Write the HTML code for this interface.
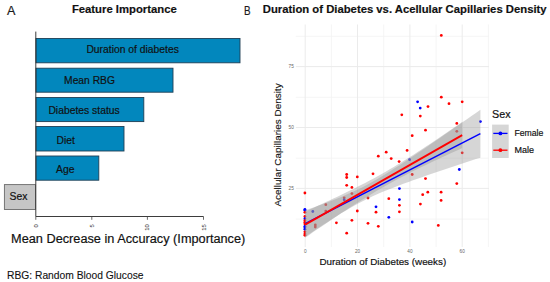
<!DOCTYPE html>
<html><head><meta charset="utf-8"><style>
html,body{margin:0;padding:0;background:#fff;width:550px;height:282px;overflow:hidden}
svg{display:block}
text{font-family:"Liberation Sans",sans-serif}
</style></head><body>
<svg width="550" height="282" viewBox="0 0 550 282">
<rect width="550" height="282" fill="#fff"/>
<text x="7.00" y="14.80" font-size="12.4" font-weight="normal" fill="#1a1a1a" stroke="#1a1a1a" stroke-width="0.18" textLength="8.40" lengthAdjust="spacingAndGlyphs" >A</text>
<text x="71.90" y="13.10" font-size="11.2" font-weight="bold" fill="#111" stroke="#111" stroke-width="0.18" textLength="104.80" lengthAdjust="spacingAndGlyphs" >Feature Importance</text>
<rect x="36" y="38.5" width="204" height="24.299999999999997" fill="#0287bd" stroke="#1f3f55" stroke-width="0.9"/>
<rect x="36" y="68.2" width="137" height="24.0" fill="#0287bd" stroke="#1f3f55" stroke-width="0.9"/>
<rect x="36" y="97.5" width="107.80000000000001" height="24.099999999999994" fill="#0287bd" stroke="#1f3f55" stroke-width="0.9"/>
<rect x="36" y="126.5" width="88" height="24.5" fill="#0287bd" stroke="#1f3f55" stroke-width="0.9"/>
<rect x="36" y="156.0" width="62.8" height="24.19999999999999" fill="#0287bd" stroke="#1f3f55" stroke-width="0.9"/>
<rect x="4.4" y="184.6" width="31.1" height="24.9" fill="#c6c6c6" stroke="#6a6a6a" stroke-width="0.9"/>
<text x="86.40" y="53.20" font-size="10.0" font-weight="normal" fill="#111" stroke="#111" stroke-width="0.18" textLength="92.50" lengthAdjust="spacingAndGlyphs" >Duration of diabetes</text>
<text x="64.10" y="83.70" font-size="10.0" font-weight="normal" fill="#111" stroke="#111" stroke-width="0.18" textLength="50.80" lengthAdjust="spacingAndGlyphs" >Mean RBG</text>
<text x="48.40" y="113.60" font-size="10.0" font-weight="normal" fill="#111" stroke="#111" stroke-width="0.18" textLength="71.30" lengthAdjust="spacingAndGlyphs" >Diabetes status</text>
<text x="56.50" y="144.40" font-size="10.0" font-weight="normal" fill="#111" stroke="#111" stroke-width="0.18" textLength="18.30" lengthAdjust="spacingAndGlyphs" >Diet</text>
<text x="56.00" y="172.50" font-size="10.0" font-weight="normal" fill="#111" stroke="#111" stroke-width="0.18" textLength="18.50" lengthAdjust="spacingAndGlyphs" >Age</text>
<text x="9.50" y="199.80" font-size="10.3" font-weight="normal" fill="#111" stroke="#111" stroke-width="0.18" textLength="17.90" lengthAdjust="spacingAndGlyphs" >Sex</text>
<path d="M35.8 31.6 V216.5 H203.5" fill="none" stroke="#333" stroke-width="0.95"/>
<path d="M35.8 216.5 V219.8" stroke="#444" stroke-width="0.8"/>
<path d="M91.8 216.5 V219.8" stroke="#444" stroke-width="0.8"/>
<path d="M147.4 216.5 V219.8" stroke="#444" stroke-width="0.8"/>
<path d="M203.5 216.5 V219.8" stroke="#444" stroke-width="0.8"/>
<text x="0" y="0" font-size="5.8" fill="#222" text-anchor="end" transform="translate(37.6,224.2) rotate(-90)">0</text>
<text x="0" y="0" font-size="5.8" fill="#222" text-anchor="end" transform="translate(93.8,224.2) rotate(-90)">5</text>
<text x="0" y="0" font-size="5.8" fill="#222" text-anchor="end" transform="translate(149.4,224.2) rotate(-90)">10</text>
<text x="0" y="0" font-size="5.8" fill="#222" text-anchor="end" transform="translate(205.5,224.2) rotate(-90)">15</text>
<text x="11.10" y="242.70" font-size="12.3" font-weight="normal" fill="#111" stroke="#111" stroke-width="0.18" textLength="234.20" lengthAdjust="spacingAndGlyphs" >Mean Decrease in Accuracy (Importance)</text>
<text x="7.00" y="278.50" font-size="10.1" font-weight="normal" fill="#111" stroke="#111" stroke-width="0.1" textLength="136.50" lengthAdjust="spacingAndGlyphs" >RBG: Random Blood Glucose</text>
<text x="244.10" y="14.80" font-size="12.6" font-weight="normal" fill="#1a1a1a" stroke="#1a1a1a" stroke-width="0.18" textLength="6.60" lengthAdjust="spacingAndGlyphs" >B</text>
<text x="262.80" y="13.10" font-size="11.2" font-weight="bold" fill="#111" stroke="#111" stroke-width="0.18" textLength="283.80" lengthAdjust="spacingAndGlyphs" >Duration of Diabetes vs. Acellular Capillaries Density</text>
<line x1="331.4" y1="24.5" x2="331.4" y2="247.0" stroke="#f2f2f2" stroke-width="0.8"/>
<line x1="383.7" y1="24.5" x2="383.7" y2="247.0" stroke="#f2f2f2" stroke-width="0.8"/>
<line x1="436.1" y1="24.5" x2="436.1" y2="247.0" stroke="#f2f2f2" stroke-width="0.8"/>
<line x1="488.4" y1="24.5" x2="488.4" y2="247.0" stroke="#f2f2f2" stroke-width="0.8"/>
<line x1="295.8" y1="219.1" x2="489.0" y2="219.1" stroke="#f2f2f2" stroke-width="0.8"/>
<line x1="295.8" y1="158.2" x2="489.0" y2="158.2" stroke="#f2f2f2" stroke-width="0.8"/>
<line x1="295.8" y1="97.3" x2="489.0" y2="97.3" stroke="#f2f2f2" stroke-width="0.8"/>
<line x1="295.8" y1="36.3" x2="489.0" y2="36.3" stroke="#f2f2f2" stroke-width="0.8"/>
<line x1="305.2" y1="24.5" x2="305.2" y2="247.0" stroke="#ebebeb" stroke-width="1"/>
<line x1="357.5" y1="24.5" x2="357.5" y2="247.0" stroke="#ebebeb" stroke-width="1"/>
<line x1="409.9" y1="24.5" x2="409.9" y2="247.0" stroke="#ebebeb" stroke-width="1"/>
<line x1="462.2" y1="24.5" x2="462.2" y2="247.0" stroke="#ebebeb" stroke-width="1"/>
<line x1="295.8" y1="188.4" x2="489.0" y2="188.4" stroke="#ebebeb" stroke-width="1"/>
<line x1="295.8" y1="127.5" x2="489.0" y2="127.5" stroke="#ebebeb" stroke-width="1"/>
<line x1="295.8" y1="66.6" x2="489.0" y2="66.6" stroke="#ebebeb" stroke-width="1"/>
<text x="303.9" y="253.1" font-size="5" fill="#666" textLength="2.6" lengthAdjust="spacingAndGlyphs">0</text>
<text x="354.9" y="253.1" font-size="5" fill="#666" textLength="5.2" lengthAdjust="spacingAndGlyphs">20</text>
<text x="407.3" y="253.1" font-size="5" fill="#666" textLength="5.2" lengthAdjust="spacingAndGlyphs">40</text>
<text x="459.6" y="253.1" font-size="5" fill="#666" textLength="5.2" lengthAdjust="spacingAndGlyphs">60</text>
<text x="288.5" y="190.20000000000002" font-size="5.3" fill="#666" textLength="5.3" lengthAdjust="spacingAndGlyphs">25</text>
<text x="288.5" y="129.3" font-size="5.3" fill="#666" textLength="5.3" lengthAdjust="spacingAndGlyphs">50</text>
<text x="288.5" y="68.39999999999999" font-size="5.3" fill="#666" textLength="5.3" lengthAdjust="spacingAndGlyphs">75</text>
<circle cx="304.9" cy="209.3" r="1.4" fill="#0000ff"/>
<circle cx="304.9" cy="210.3" r="1.4" fill="#0000ff"/>
<circle cx="304.9" cy="212.3" r="1.4" fill="#ff0000"/>
<circle cx="304.9" cy="216.5" r="1.4" fill="#ff0000"/>
<circle cx="304.9" cy="218.7" r="1.4" fill="#0000ff"/>
<circle cx="304.9" cy="220.6" r="1.4" fill="#ff0000"/>
<circle cx="304.9" cy="222.2" r="1.4" fill="#ff0000"/>
<circle cx="304.9" cy="224" r="1.4" fill="#ff0000"/>
<circle cx="304.9" cy="226.3" r="1.4" fill="#0000ff"/>
<circle cx="304.9" cy="227.8" r="1.4" fill="#0000ff"/>
<circle cx="304.9" cy="229.3" r="1.4" fill="#0000ff"/>
<circle cx="304.9" cy="231.8" r="1.4" fill="#ff0000"/>
<circle cx="304.9" cy="234.0" r="1.4" fill="#ff0000"/>
<circle cx="304.9" cy="235.3" r="1.4" fill="#ff0000"/>
<circle cx="304.9" cy="193" r="1.4" fill="#ff0000"/>
<circle cx="312.8" cy="211.5" r="1.4" fill="#0000ff"/>
<circle cx="325.8" cy="204.7" r="1.4" fill="#ff0000"/>
<circle cx="325.8" cy="211.1" r="1.4" fill="#ff0000"/>
<circle cx="315.3" cy="225.0" r="1.4" fill="#ff0000"/>
<circle cx="315.3" cy="227.0" r="1.4" fill="#ff0000"/>
<circle cx="336.4" cy="222.8" r="1.4" fill="#ff0000"/>
<circle cx="344.2" cy="197.8" r="1.4" fill="#ff0000"/>
<circle cx="344.2" cy="199.8" r="1.4" fill="#0000ff"/>
<circle cx="346.7" cy="174.5" r="1.4" fill="#ff0000"/>
<circle cx="346.7" cy="177.5" r="1.4" fill="#ff0000"/>
<circle cx="346.7" cy="185.3" r="1.4" fill="#ff0000"/>
<circle cx="346.7" cy="233.2" r="1.4" fill="#ff0000"/>
<circle cx="351.9" cy="187.4" r="1.4" fill="#ff0000"/>
<circle cx="351.9" cy="193.6" r="1.4" fill="#ff0000"/>
<circle cx="351.9" cy="220.3" r="1.4" fill="#ff0000"/>
<circle cx="357.3" cy="176.9" r="1.4" fill="#ff0000"/>
<circle cx="357.3" cy="211.0" r="1.4" fill="#ff0000"/>
<circle cx="368.0" cy="198.0" r="1.4" fill="#ff0000"/>
<circle cx="368.0" cy="223.3" r="1.4" fill="#ff0000"/>
<circle cx="373.0" cy="173.8" r="1.4" fill="#ff0000"/>
<circle cx="376.0" cy="206.8" r="1.4" fill="#0000ff"/>
<circle cx="376.0" cy="212.2" r="1.4" fill="#ff0000"/>
<circle cx="378.3" cy="226.3" r="1.4" fill="#ff0000"/>
<circle cx="378.3" cy="156.2" r="1.4" fill="#ff0000"/>
<circle cx="386.2" cy="152.2" r="1.4" fill="#ff0000"/>
<circle cx="388.8" cy="198.7" r="1.4" fill="#ff0000"/>
<circle cx="388.8" cy="217.3" r="1.4" fill="#0000ff"/>
<circle cx="391.2" cy="158.6" r="1.4" fill="#ff0000"/>
<circle cx="399.1" cy="161.6" r="1.4" fill="#ff0000"/>
<circle cx="399.4" cy="188.6" r="1.4" fill="#0000ff"/>
<circle cx="399.4" cy="199.6" r="1.4" fill="#0000ff"/>
<circle cx="399.4" cy="205.3" r="1.4" fill="#ff0000"/>
<circle cx="399.4" cy="211.8" r="1.4" fill="#ff0000"/>
<circle cx="401.8" cy="114.8" r="1.4" fill="#ff0000"/>
<circle cx="407.1" cy="150.4" r="1.4" fill="#ff0000"/>
<circle cx="409.6" cy="159.7" r="1.4" fill="#0000ff"/>
<circle cx="412.2" cy="135.7" r="1.4" fill="#ff0000"/>
<circle cx="412.2" cy="174.5" r="1.4" fill="#ff0000"/>
<circle cx="412.2" cy="222.0" r="1.4" fill="#0000ff"/>
<circle cx="417.6" cy="101.8" r="1.4" fill="#0000ff"/>
<circle cx="420.2" cy="108.1" r="1.4" fill="#0000ff"/>
<circle cx="420.3" cy="116.1" r="1.4" fill="#ff0000"/>
<circle cx="420.4" cy="204.1" r="1.4" fill="#ff0000"/>
<circle cx="422.7" cy="194.7" r="1.4" fill="#ff0000"/>
<circle cx="425.5" cy="130.2" r="1.4" fill="#ff0000"/>
<circle cx="425.5" cy="178.6" r="1.4" fill="#ff0000"/>
<circle cx="427.8" cy="192.2" r="1.4" fill="#ff0000"/>
<circle cx="428.0" cy="106.6" r="1.4" fill="#ff0000"/>
<circle cx="438.3" cy="225.4" r="1.4" fill="#ff0000"/>
<circle cx="441.1" cy="192.2" r="1.4" fill="#ff0000"/>
<circle cx="441.1" cy="200.4" r="1.4" fill="#ff0000"/>
<circle cx="441.3" cy="35.4" r="1.4" fill="#ff0000"/>
<circle cx="441.3" cy="97.2" r="1.4" fill="#ff0000"/>
<circle cx="449.0" cy="103.7" r="1.4" fill="#ff0000"/>
<circle cx="456.8" cy="123.4" r="1.4" fill="#ff0000"/>
<circle cx="456.8" cy="131.3" r="1.4" fill="#ff0000"/>
<circle cx="456.8" cy="183.6" r="1.4" fill="#ff0000"/>
<circle cx="459.3" cy="169.5" r="1.4" fill="#0000ff"/>
<circle cx="462.2" cy="101.8" r="1.4" fill="#ff0000"/>
<circle cx="462.2" cy="152.8" r="1.4" fill="#ff0000"/>
<circle cx="480.4" cy="121.6" r="1.4" fill="#0000ff"/>
<polygon points="305.20,211.56 309.23,209.74 313.25,207.90 317.28,206.06 321.30,204.22 325.33,202.35 329.35,200.48 333.38,198.59 337.41,196.69 341.43,194.77 345.46,192.83 349.48,190.87 353.51,188.88 357.53,186.86 361.56,184.81 365.58,182.73 369.61,180.61 373.64,178.44 377.66,176.24 381.69,173.99 385.71,171.70 389.74,169.36 393.76,166.98 397.79,164.55 401.82,162.08 405.84,159.58 409.87,157.04 413.89,154.47 417.92,151.87 421.94,149.24 425.97,146.60 429.99,143.93 434.02,141.24 438.05,138.54 442.07,135.82 446.10,133.10 450.12,130.36 454.15,127.61 458.17,124.85 462.20,122.08 462.20,148.12 458.17,149.94 454.15,151.77 450.12,153.61 446.10,155.46 442.07,157.32 438.05,159.20 434.02,161.09 429.99,162.99 425.97,164.91 421.94,166.85 417.92,168.82 413.89,170.81 409.87,172.83 405.84,174.88 401.82,176.96 397.79,179.09 393.76,181.25 389.74,183.46 385.71,185.71 381.69,188.00 377.66,190.34 373.64,192.73 369.61,195.16 365.58,197.63 361.56,200.13 357.53,202.67 353.51,205.25 349.48,207.85 345.46,210.47 341.43,213.12 337.41,215.79 333.38,218.48 329.35,221.18 325.33,223.90 321.30,226.63 317.28,229.37 313.25,232.12 309.23,234.88 305.20,237.64" fill="#999999" fill-opacity="0.4"/>
<polygon points="305.20,210.33 309.69,208.76 314.18,207.17 318.68,205.56 323.17,203.92 327.66,202.25 332.15,200.54 336.65,198.78 341.14,196.96 345.63,195.08 350.12,193.11 354.62,191.06 359.11,188.90 363.60,186.63 368.09,184.26 372.58,181.78 377.08,179.20 381.57,176.53 386.06,173.79 390.55,170.98 395.05,168.11 399.54,165.20 404.03,162.26 408.52,159.28 413.02,156.27 417.51,153.24 422.00,150.20 426.49,147.14 430.98,144.06 435.48,140.98 439.97,137.89 444.46,134.78 448.95,131.67 453.45,128.56 457.94,125.43 462.43,122.31 466.92,119.18 471.42,116.04 475.91,112.90 480.40,109.76 480.40,157.64 475.91,159.11 471.42,160.58 466.92,162.06 462.43,163.53 457.94,165.02 453.45,166.51 448.95,168.00 444.46,169.50 439.97,171.01 435.48,172.52 430.98,174.05 426.49,175.58 422.00,177.13 417.51,178.70 413.02,180.28 408.52,181.89 404.03,183.52 399.54,185.18 395.05,186.88 390.55,188.63 386.06,190.43 381.57,192.29 377.08,194.24 372.58,196.27 368.09,198.40 363.60,200.63 359.11,202.98 354.62,205.43 350.12,207.99 345.63,210.63 341.14,213.35 336.65,216.15 332.15,219.00 327.66,221.90 323.17,224.84 318.68,227.81 314.18,230.81 309.69,233.83 305.20,236.87" fill="#999999" fill-opacity="0.4"/>
<line x1="305.2" y1="223.6" x2="480.4" y2="133.7" stroke="#0000ff" stroke-width="1.45"/>
<line x1="305.2" y1="224.6" x2="462.2" y2="135.1" stroke="#ff0000" stroke-width="1.8"/>
<text x="319.40" y="265.00" font-size="9.8" font-weight="normal" fill="#111" stroke="#111" stroke-width="0.18" textLength="126.80" lengthAdjust="spacingAndGlyphs" >Duration of Diabetes (weeks)</text>
<text x="0" y="0" font-size="9.9" fill="#111" stroke="#111" stroke-width="0.12" textLength="123.2" lengthAdjust="spacingAndGlyphs" transform="translate(281.3,206.6) rotate(-90)">Acellular Capillaries Density</text>
<text x="492.00" y="118.20" font-size="10.5" font-weight="normal" fill="#111" stroke="#111" stroke-width="0.18" textLength="18.50" lengthAdjust="spacingAndGlyphs" >Sex</text>
<rect x="492.1" y="124.6" width="16.6" height="33.4" fill="#d6d6d6"/>
<line x1="493.3" y1="133.4" x2="507.5" y2="133.4" stroke="#0000ff" stroke-width="1.3"/>
<circle cx="500.4" cy="133.4" r="1.9" fill="#0000ff"/>
<line x1="493.3" y1="150.2" x2="507.5" y2="150.2" stroke="#ff0000" stroke-width="1.3"/>
<circle cx="500.4" cy="150.2" r="1.9" fill="#ff0000"/>
<text x="514.40" y="136.20" font-size="8.8" font-weight="normal" fill="#111" stroke="#111" stroke-width="0.18" textLength="28.90" lengthAdjust="spacingAndGlyphs" >Female</text>
<text x="514.40" y="153.40" font-size="8.8" font-weight="normal" fill="#111" stroke="#111" stroke-width="0.18" textLength="19.50" lengthAdjust="spacingAndGlyphs" >Male</text>
</svg></body></html>
